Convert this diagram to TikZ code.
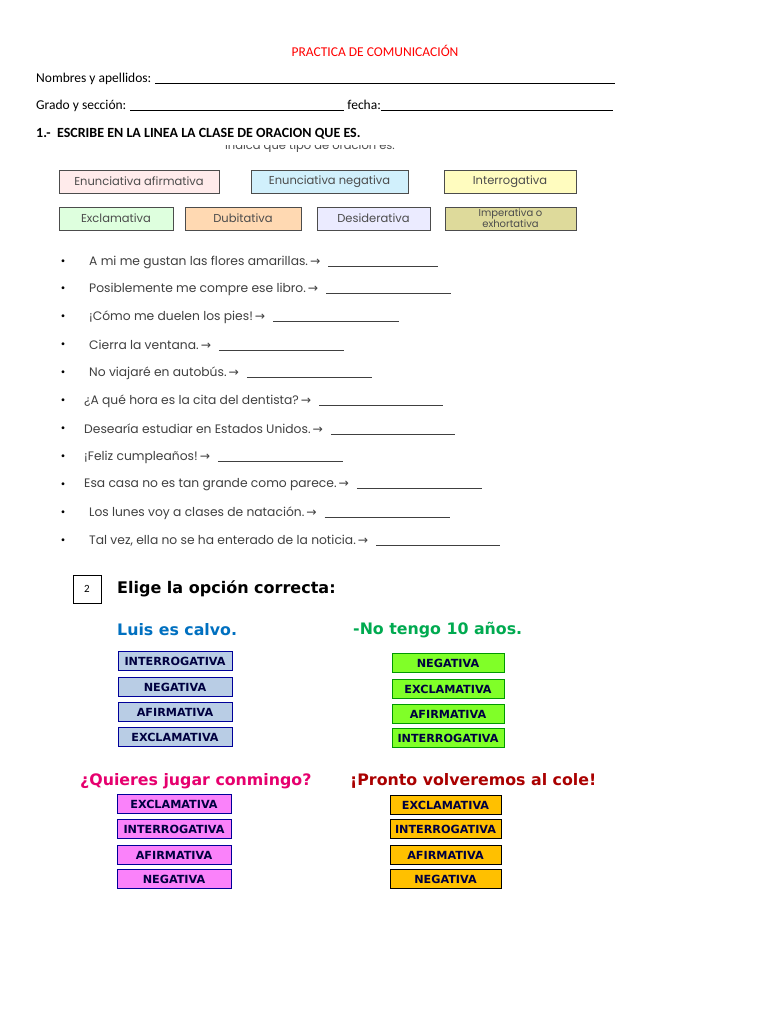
\documentclass[tikz,border=0pt]{standalone}
\usepackage{fontspec}
\setmainfont{Carlito}
\newfontfamily\vfont{DejaVu Sans}
\newfontfamily\hfont{Poppins}
\begin{document}
\begin{tikzpicture}[x=1pt,y=-1pt,
  tb/.style={draw=black!70,minimum height=23pt,inner sep=1pt,font=\hfont\fontsize{11.5}{12}\selectfont,text=black!70},
  ob/.style={draw=#1!60!black,line width=1pt,minimum width=114pt,minimum height=19pt,inner sep=0pt,font=\vfont\bfseries\fontsize{11.2}{12}\selectfont,text=black!75!blue},
  sent/.style={anchor=west,inner sep=0pt,font=\hfont\fontsize{12.3}{13}\selectfont,text=black!75},
  hd/.style={anchor=west,inner sep=0pt,font=\vfont\bfseries\fontsize{15.8}{17}\selectfont}]
\fill[white] (0,0) rectangle (768,1024);
\node[text=red,font=\fontsize{13.5}{15}\selectfont] (title) at (375,51) {PRACTICA DE COMUNICACIÓN};
\node[anchor=west,inner sep=0pt,font=\fontsize{13.5}{15}\selectfont] (n) at (36,79) {Nombres y apellidos: \rule[-1.5pt]{460pt}{0.6pt}};
\node[anchor=west,inner sep=0pt,font=\fontsize{13.5}{15}\selectfont] (g) at (36,106) {Grado y sección: \rule[-1.5pt]{214pt}{0.6pt} fecha:\rule[-1.5pt]{232pt}{0.6pt}};
\node[anchor=west,inner sep=0pt,font=\bfseries\fontsize{14}{15}\selectfont] (q1) at (36,134) {1.-\ \ ESCRIBE EN LA LINEA LA CLASE DE ORACION QUE ES.};
\begin{scope}
\clip (0,146) rectangle (768,160);
\node[font=\hfont\fontsize{11.5}{12}\selectfont,text=black!70] (ind) at (310,146) {Indica qué tipo de oración es:};
\end{scope}
\node[tb,fill=red!8,minimum width=160pt] (b1) at (139,181.5) {Enunciativa afirmativa};
\node[tb,fill=cyan!18,minimum width=157pt] (b2) at (329.5,181.5) {Enunciativa negativa};
\node[tb,fill=yellow!25,minimum width=132pt] (b3) at (510,181.5) {Interrogativa};
\node[tb,fill=green!13,minimum width=114pt] (b4) at (116,218.5) {Exclamativa};
\node[tb,fill=orange!30,minimum width=116pt] (b5) at (243,218.5) {Dubitativa};
\node[tb,fill=blue!8,minimum width=113pt] (b6) at (373.5,218.5) {Desiderativa};
\node[tb,fill=olive!30,minimum width=131pt,align=center,font=\hfont\fontsize{10}{10}\selectfont] (b7) at (510.5,218.5) {Imperativa o\\exhortativa};
\foreach \t/\y/\x/\l [count=\i] in {
 {A mi me gustan las flores amarillas.}/262/89/110,
 {Posiblemente me compre ese libro.}/289/89/125,
 {¡Cómo me duelen los pies!}/317/89/126,
 {Cierra la ventana.}/345/89/125,
 {No viajaré en autobús.}/373/89/125,
 {¿A qué hora es la cita del dentista?}/401/84/124,
 {Desearía estudiar en Estados Unidos.}/429/84/124,
 {¡Feliz cumpleaños!}/457/84/125,
 {Esa casa no es tan grande como parece.}/485/84/125,
 {Los lunes voy a clases de natación.}/513/89/125,
 {Tal vez, ella no se ha enterado de la noticia.}/541/89/124}{
 \node[font=\fontsize{8}{9}\selectfont] (bu\i) at (63,\y) {\textbullet};
 \node[sent] (s\i) at (\x,\y) {\t{\vfont\,→\ \ }\rule[-1pt]{\l pt}{0.5pt}};
}
\node[draw,minimum width=28pt,minimum height=28pt,font=\fontsize{11}{12}\selectfont] (two) at (87,589) {2};
\node[hd,font=\vfont\bfseries\fontsize{16}{18}\selectfont] (t2) at (117,589) {Elige la opción correcta:};
\node[hd,text={rgb,255:red,0;green,112;blue,192}] (h1) at (117,630) {Luis es calvo.};
\node[hd,text={rgb,255:red,0;green,170;blue,80}] (h2) at (353,630) {-No tengo 10 años.};
\node[hd,text={rgb,255:red,230;green,0;blue,110}] (h3) at (80,781) {¿Quieres jugar conmingo?};
\node[hd,text={rgb,255:red,170;green,0;blue,0}] (h4) at (350,781) {¡Pronto volveremos al cole!};
\foreach \t/\y [count=\i] in {INTERROGATIVA/661,NEGATIVA/687,AFIRMATIVA/712,EXCLAMATIVA/737}
 \node[ob=blue,fill={rgb,255:red,185;green,205;blue,229}] (a\i) at (175,\y) {\t};
\foreach \t/\y [count=\i] in {NEGATIVA/663,EXCLAMATIVA/689,AFIRMATIVA/714,INTERROGATIVA/738}
 \node[ob=green,fill={rgb,255:red,128;green,255;blue,40},minimum width=112pt] (c\i) at (448,\y) {\t};
\foreach \t/\y [count=\i] in {EXCLAMATIVA/804,INTERROGATIVA/829,AFIRMATIVA/855,NEGATIVA/879}
 \node[ob=blue,fill={rgb,255:red,250;green,130;blue,250}] (d\i) at (174,\y) {\t};
\foreach \t/\y [count=\i] in {EXCLAMATIVA/805,INTERROGATIVA/829,AFIRMATIVA/855,NEGATIVA/879}
 \node[ob=black,fill={rgb,255:red,255;green,192;blue,0},minimum width=111pt] (e\i) at (445.5,\y) {\t};
\end{tikzpicture}
\end{document}
